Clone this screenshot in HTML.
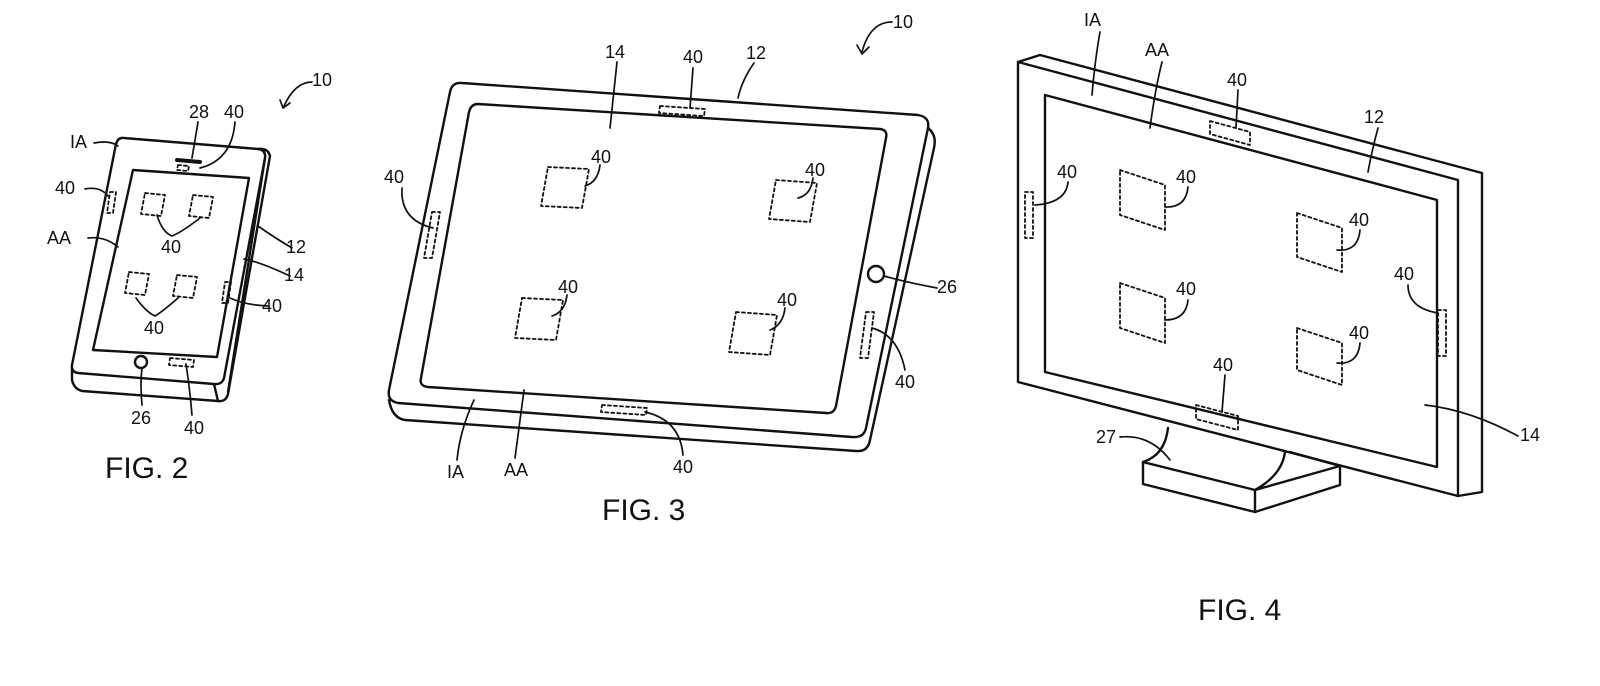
<!DOCTYPE html>
<html><head><meta charset="utf-8"><style>
html,body{margin:0;padding:0;background:#fff;}
svg{display:block}
text{font-family:"Liberation Sans",sans-serif;fill:#111;font-size:18px}
.f{font-size:30px}
</style></head><body>
<svg width="1600" height="686" viewBox="0 0 1600 686" xmlns="http://www.w3.org/2000/svg">
<g fill="none" stroke="#111" stroke-width="2.4" stroke-linejoin="round" stroke-linecap="round">
<!-- FIG 2 -->
<path d="M124,138 L258,149 Q266,150 265,158 L224,378 Q222,385 214,384 L78,373 Q71,372 72,365 L116,144 Q118,137 124,138Z"/>
<path d="M258,149 Q268,148 270,156 L228,394 Q226,402 218,401 L82,391 Q74,389 72,380 L72,368"/>
<path d="M265,158 L228,392" />
<path d="M214,384 L218,401"/>
<path d="M133,170 L249,178 L217,357 L93,350Z"/>
<path d="M177,160 L200,162" stroke-width="4"/>
<circle cx="141" cy="362" r="6"/>
<g stroke-dasharray="3,3" stroke-width="1.8">
<path d="M145,193 L165,195 L161,216 L141,214Z"/>
<path d="M193,195 L213,197 L209,218 L189,216Z"/>
<path d="M129,272 L149,274 L145,295 L125,293Z"/>
<path d="M177,275 L197,277 L193,298 L173,296Z"/>
<path d="M110,192 L116,192 L113,213 L107,213Z"/>
<path d="M225,282 L231,282 L228,303 L222,303Z"/>
<path d="M170,358 L194,360 L193,367 L169,365Z"/>
<path d="M178,165 L189,166 L188,171 L177,170Z"/>
</g>
<g stroke-width="1.7">
<path d="M312,82 Q295,82 284,106"/><path d="M280,100 L283,108 L290,103"/>
<path d="M198,122 L192,158"/><path d="M235,122 Q232,160 200,168"/>
<path d="M94,143 Q110,140 118,146"/><path d="M85,189 Q100,186 108,196"/>
<path d="M88,238 Q105,236 118,247"/><path d="M157,215 Q162,232 172,236 Q182,232 200,218"/>
<path d="M292,248 Q275,238 258,226"/><path d="M290,276 Q260,262 244,259"/>
<path d="M268,306 Q245,305 230,298"/><path d="M136,298 Q146,312 155,316 Q162,312 178,298"/>
<path d="M142,405 Q140,385 142,368"/><path d="M192,415 Q190,390 186,364"/>
</g>
<!-- FIG 3 -->
<path d="M462,83 L918,115 Q930,117 928,128 L866,428 Q864,438 852,437 L398,403 Q387,401 389,390 L450,92 Q452,82 462,83Z"/>
<path d="M928,128 Q937,135 934,148 L870,440 Q868,452 856,451 L405,420 Q392,418 389,400"/>
<path d="M478,104 L880,129 Q888,130 886,138 L836,406 Q834,414 826,413 L428,387 Q419,386 421,378 L469,112 Q471,104 478,104Z"/>
<circle cx="876" cy="274" r="8"/>
<g stroke-dasharray="3,3" stroke-width="1.8">
<path d="M660,106 L705,109 L704,116 L659,113Z"/>
<path d="M432,212 L440,212 L432,258 L424,258Z"/>
<path d="M866,312 L874,312 L868,358 L860,358Z"/>
<path d="M602,405 L647,408 L646,415 L601,412Z"/>
<path d="M548,167 L589,169 L582,208 L541,206Z"/>
<path d="M776,180 L817,183 L810,222 L769,219Z"/>
<path d="M522,298 L563,300 L556,340 L515,338Z"/>
<path d="M736,312 L777,315 L770,355 L729,352Z"/>
</g>
<g stroke-width="1.7">
<path d="M892,22 Q870,22 862,52"/><path d="M857,45 L862,54 L869,47"/>
<path d="M617,62 Q614,90 610,128"/><path d="M693,68 L690,108"/><path d="M754,63 Q742,80 738,98"/>
<path d="M402,188 Q400,220 433,228"/>
<path d="M600,165 Q598,182 585,186"/><path d="M813,178 Q811,195 798,198"/>
<path d="M567,295 Q565,312 552,316"/><path d="M785,308 Q783,325 770,330"/>
<path d="M937,288 Q905,282 884,276"/><path d="M905,370 Q898,335 872,328"/>
<path d="M457,460 Q460,430 474,400"/><path d="M515,458 Q520,420 524,390"/>
<path d="M683,455 Q680,420 645,412"/>
</g>
<!-- FIG 4 -->
<path d="M1018,62 L1458,180 L1458,496 L1018,382Z"/>
<path d="M1018,62 L1040,55 L1482,173 L1482,492 L1458,496"/>
<path d="M1045,95 L1437,200 L1437,467 L1045,372Z"/>
<path d="M1168,428 Q1165,455 1143,462 L1143,484 L1255,512 L1340,485 L1340,466 L1290,452"/>
<path d="M1143,462 L1255,490 L1340,466"/><path d="M1255,490 L1255,512"/>
<path d="M1285,452 Q1282,475 1255,490"/>
<g stroke-dasharray="3,3" stroke-width="1.8">
<path d="M1210,121 L1250,132 L1250,145 L1210,134Z"/>
<path d="M1025,192 L1033,192 L1033,238 L1025,238Z"/>
<path d="M1438,310 L1446,310 L1446,356 L1438,356Z"/>
<path d="M1196,405 L1238,416 L1238,430 L1196,419Z"/>
<path d="M1120,170 L1165,185 L1165,230 L1120,215Z"/>
<path d="M1297,213 L1342,228 L1342,272 L1297,257Z"/>
<path d="M1120,283 L1165,298 L1165,343 L1120,328Z"/>
<path d="M1297,328 L1342,343 L1342,385 L1297,370Z"/>
</g>
<g stroke-width="1.7">
<path d="M1100,32 Q1095,60 1092,95"/><path d="M1162,62 Q1155,90 1150,128"/>
<path d="M1238,90 L1236,128"/><path d="M1378,128 Q1372,150 1368,172"/>
<path d="M1068,182 Q1066,203 1035,205"/><path d="M1188,187 Q1186,208 1165,207"/>
<path d="M1360,230 Q1358,252 1337,250"/><path d="M1188,300 Q1186,320 1165,320"/>
<path d="M1360,343 Q1358,365 1337,363"/><path d="M1408,285 Q1408,308 1438,313"/>
<path d="M1225,375 L1222,412"/><path d="M1120,437 Q1150,434 1170,460"/>
<path d="M1518,436 Q1470,410 1425,405"/>
</g>
</g>
<g>
<text x="312" y="86">10</text>
<text x="189" y="118">28</text><text x="224" y="118">40</text>
<text x="70" y="148">IA</text><text x="55" y="194">40</text>
<text x="47" y="244">AA</text><text x="161" y="253">40</text>
<text x="286" y="253">12</text><text x="284" y="281">14</text>
<text x="262" y="312">40</text><text x="144" y="334">40</text>
<text x="131" y="424">26</text><text x="184" y="434">40</text>
<text class="f" x="105" y="478">FIG. 2</text>

<text x="893" y="28">10</text>
<text x="605" y="58">14</text><text x="683" y="63">40</text><text x="746" y="59">12</text>
<text x="384" y="183">40</text><text x="591" y="163">40</text><text x="805" y="176">40</text>
<text x="558" y="293">40</text><text x="777" y="306">40</text>
<text x="937" y="293">26</text><text x="895" y="388">40</text>
<text x="447" y="478">IA</text><text x="504" y="476">AA</text><text x="673" y="473">40</text>
<text class="f" x="602" y="520">FIG. 3</text>

<text x="1084" y="26">IA</text><text x="1145" y="56">AA</text>
<text x="1227" y="86">40</text><text x="1364" y="123">12</text>
<text x="1057" y="178">40</text><text x="1176" y="183">40</text>
<text x="1349" y="226">40</text><text x="1394" y="280">40</text>
<text x="1176" y="295">40</text><text x="1349" y="339">40</text>
<text x="1213" y="371">40</text><text x="1096" y="443">27</text>
<text x="1520" y="441">14</text>
<text class="f" x="1198" y="620">FIG. 4</text>
</g>
</svg>
</body></html>
